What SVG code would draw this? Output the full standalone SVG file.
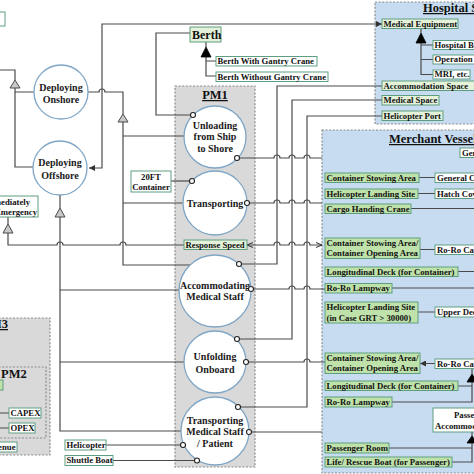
<svg xmlns="http://www.w3.org/2000/svg" width="474" height="474" viewBox="0 0 474 474">
<style>
text{font-family:"Liberation Serif","Times New Roman",serif;font-weight:bold;fill:#111}
.t{font-size:8.7px}
.c{font-size:10px;text-anchor:middle;fill:#1a1a1a}
.h{font-size:12.5px;text-decoration:underline}
.bw{fill:#fff;stroke:#5e9e80;stroke-width:1}
.bg{fill:#bfe2ab;stroke:#5e9e80;stroke-width:1}
.bp{fill:#e4f2da;stroke:#5e9e80;stroke-width:1}
.node{fill:#fff;stroke:#7fa6c6;stroke-width:1.3}
.pm{fill:#d9d9d9;stroke:#8c8c8c;stroke-width:1.2;stroke-dasharray:2 1.6}
.sea{fill:#c7dcf0;stroke:#8c8c8c;stroke-width:1.2;stroke-dasharray:2 1.6}
.ln{fill:none;stroke:#4a4a4a;stroke-width:1.2}
.gt{fill:#c8c8c8;stroke:#4a4a4a;stroke-width:1}
.bt{fill:#000;stroke:#000;stroke-width:0.8}
.o{fill:#fff;stroke:#222;stroke-width:1.1}
</style>
<defs>
<marker id="af" markerWidth="6" markerHeight="6" refX="6" refY="3" orient="auto-start-reverse" markerUnits="userSpaceOnUse"><path d="M0,0 L6,3 L0,6 z" fill="#333"/></marker>
<marker id="ao" markerWidth="6" markerHeight="6" refX="6" refY="3" orient="auto-start-reverse" markerUnits="userSpaceOnUse"><path d="M0,0.5 L6,3 L0,5.5" fill="none" stroke="#333" stroke-width="1"/></marker>
</defs>

<!-- containers -->
<g id="PM3"><rect class="pm" x="-5" y="318" width="55" height="137"/><text class="h" x="8" y="328" text-anchor="end">PM3</text></g>
<g id="PM2"><rect class="pm" x="-5" y="367" width="51" height="71"/><text x="1" y="378" style="font-size:12.5px">PM2</text></g>
<g id="PM1"><rect class="pm" x="175" y="86" width="80" height="381"/><text class="h" x="215" y="99" text-anchor="middle">PM1</text></g>
<g id="HospitalShip"><rect class="sea" x="375" y="2" width="110" height="122"/><text class="h" x="423" y="12">Hospital Ship</text></g>
<g id="MerchantVessel"><rect class="sea" x="322" y="130" width="160" height="343"/><text class="h" x="389" y="143">Merchant Vessel</text></g>

<!-- connectors -->
<g id="connectors">
<path class="ln" d="M0,70 H15 V80 M15,88 V167 H33 M15,92 H34"/>
<path class="ln" d="M88,92 H99 A3 3 0 0 1 105 92 H123 V114 M123,122 V265 H190 M123,136 H184 M123,203 H183"/>
<path class="ln" d="M89,168 H102 V24 H382" marker-start="url(#af)" marker-end="url(#af)"/>
<path class="ln" d="M60,195 V208 M60,217 V431 H182 M60,290 H179 M60,362 H184"/>
<path class="ln" d="M8,217 V224 M8,233 V245 H57 A3 3 0 0 1 63 245 H120 A3 3 0 0 1 126 245 H184"/>
<path class="ln" d="M247,245 H274 A3 3 0 0 1 280 245 H289 A3 3 0 0 1 295 245 H304 A3 3 0 0 1 310 245 H322" marker-start="url(#ao)" marker-end="url(#ao)"/>
<path class="ln" d="M190,33 H156 V115 H193"/>
<path class="ln" d="M206,42 V47 M206,57 V76 H216 M206,61 H216"/>
<path class="ln" d="M237,158 H274 A3 3 0 0 1 280 158 H289 A3 3 0 0 1 295 158 H304 A3 3 0 0 1 310 158 H322"/>
<path class="ln" d="M247,203 H274 A3 3 0 0 1 280 203 H289 A3 3 0 0 1 295 203 H304 A3 3 0 0 1 310 203 H322"/>
<path class="ln" d="M171,181 H192"/>
<path class="ln" d="M239,264 H277 V86 H382"/>
<path class="ln" d="M237,339 H292 V100 H382"/>
<path class="ln" d="M238,407 H307 V116 H382"/>
<path class="ln" d="M251,289 H289 A3 3 0 0 1 295 289 H304 A3 3 0 0 1 310 289 H325"/>
<path class="ln" d="M246,362 H304 A3 3 0 0 1 310 362 H325"/>
<path class="ln" d="M249,432 H322"/>
<path class="ln" d="M105,445 H183 M113,460.5 H197"/>
<path class="ln" d="M0,413 H9 M0,428 H9"/>
<path class="ln" d="M421,28.5 V33 M421,43 V74.5 H433 M421,45 H433 M421,59.5 H433"/>
<path class="ln" d="M435,177.5 H419 M435,193.5 H418 M435,249.5 H420 M435,312 H418 M435,363.5 H420" marker-end="url(#af)"/>
<path class="ln" d="M411,208.5 H474 M458,271.5 H474 M392,288 H474"/>
<path class="ln" d="M472,368.5 V374 M472,382 V402 H392 M458,386 H472"/>
<path class="ln" d="M472,432 V436 M472,443 V462 H452 M389,448 H472"/>
<polygon class="gt" points="15,80 10,88 20,88"/>
<polygon class="gt" points="123,114 118,122 128,122"/>
<polygon class="gt" points="60,208 55,217 65,217"/>
<polygon class="gt" points="8,224 3,233 13,233"/>
<polygon class="bt" points="206,47 201,57 211,57"/>
<polygon class="bt" points="421,33 416,43 426,43"/>
<polygon class="bt" points="472,374 467,382 477,382"/>
<polygon class="bt" points="472,436 467,443 477,443"/>
</g>

<!-- circle nodes -->
<g id="DeployingOnshore"><circle class="node" cx="61" cy="92" r="27"/><text class="c" x="61" y="91">Deploying</text><text class="c" x="61" y="103">Onshore</text></g>
<g id="DeployingOffshore"><circle class="node" cx="60" cy="168" r="27"/><text class="c" x="60" y="166">Deploying</text><text class="c" x="60" y="178.5">Offshore</text></g>
<g id="Unloading"><circle class="node" cx="215" cy="137" r="31"/><text class="c" x="215" y="128.5">Unloading</text><text class="c" x="215" y="140">from Ship</text><text class="c" x="215" y="151.5">to Shore</text></g>
<g id="Transporting"><circle class="node" cx="215" cy="203" r="32"/><text class="c" x="215" y="207">Transporting</text></g>
<g id="Accommodating"><circle class="node" cx="215" cy="291" r="36"/><text class="c" x="215" y="288.5">Accommodating</text><text class="c" x="215" y="300">Medical Staff</text></g>
<g id="Unfolding"><circle class="node" cx="215" cy="362" r="31"/><text class="c" x="215" y="360">Unfolding</text><text class="c" x="215" y="373">Onboard</text></g>
<g id="TransportingMedical"><circle class="node" cx="215" cy="431" r="34"/><text class="c" x="215" y="423.5">Transporting</text><text class="c" x="215" y="435">Medical Staff</text><text class="c" x="215" y="446.5">/ Patient</text></g>

<!-- ports -->
<g id="ports">
<circle class="o" cx="193" cy="115" r="2.5"/><circle class="o" cx="237" cy="158" r="2.5"/>
<circle class="o" cx="192" cy="181" r="2.5"/><circle class="o" cx="247" cy="203" r="2.5"/>
<circle class="o" cx="239" cy="264" r="2.5"/><circle class="o" cx="251" cy="289" r="2.5"/>
<circle class="o" cx="237" cy="339" r="2.5"/><circle class="o" cx="246" cy="362" r="2.5"/>
<circle class="o" cx="238" cy="407" r="2.5"/><circle class="o" cx="249" cy="432" r="2.5"/>
<circle class="o" cx="183" cy="445" r="2.5"/><circle class="o" cx="197" cy="460.5" r="2.5"/>
</g>

<!-- box nodes -->
<g id="TopLeftBox"><rect class="bw" x="-20" y="12" width="25" height="14"/></g>
<g id="Berth"><rect class="bp" x="190" y="27" width="31" height="15"/><text x="192" y="39" style="font-size:12px">Berth</text></g>
<g id="BerthWith"><rect class="bw" x="216" y="56.5" width="101" height="9.5"/><text class="t" x="217.5" y="64">Berth With Gantry Crane</text></g>
<g id="BerthWithout"><rect class="bw" x="216" y="72" width="112" height="9.5"/><text class="t" x="217.5" y="79.5">Berth Without Gantry Crane</text></g>
<g id="Container20FT"><rect class="bw" x="131" y="171" width="40" height="21"/><text class="t" x="151" y="179.5" text-anchor="middle">20FT</text><text class="t" x="151" y="189.5" text-anchor="middle">Container</text></g>
<g id="ResponseSpeed"><rect class="bp" x="184" y="240" width="63" height="9.5"/><text class="t" x="185.5" y="247.5">Response Speed</text></g>
<g id="Emergency"><rect class="bw" x="-20" y="196" width="58" height="21"/><text class="t" x="30" y="205" text-anchor="end">Immediately</text><text class="t" x="37" y="214.5" text-anchor="end">Emergency</text></g>
<g id="Helicopter"><rect class="bw" x="65" y="440" width="41" height="10"/><text class="t" x="66.5" y="447.8">Helicopter</text></g>
<g id="ShuttleBoat"><rect class="bw" x="65" y="455.5" width="48" height="10"/><text class="t" x="66.5" y="463.3">Shuttle Boat</text></g>
<g id="CAPEX"><rect class="bw" x="9" y="408" width="32" height="10"/><text class="t" x="10.5" y="415.8">CAPEX</text></g>
<g id="OPEX"><rect class="bw" x="9" y="423" width="26" height="10"/><text class="t" x="10.5" y="430.8">OPEX</text></g>
<g id="Revenue"><rect class="bw" x="-30" y="442" width="47" height="10"/><text class="t" x="15.5" y="449.8" text-anchor="end">Revenue</text></g>
<g id="PM2Box"><rect class="bg" x="-20" y="380" width="23" height="10"/></g>

<g id="MedicalEquipment"><rect class="bp" x="382" y="19" width="76" height="9.5"/><text class="t" x="383.5" y="26.5">Medical Equipment</text></g>
<g id="HospitalBed"><rect class="bw" x="433" y="40.5" width="60" height="9"/><text class="t" x="434.5" y="47.6">Hospital Bed</text></g>
<g id="OperationRoom"><rect class="bw" x="433" y="55" width="70" height="9"/><text class="t" x="434.5" y="62.1">Operation Room</text></g>
<g id="MRI"><rect class="bw" x="433" y="70" width="37" height="9"/><text class="t" x="434.5" y="77.1">MRI, etc.</text></g>
<g id="AccommodationSpace"><rect class="bp" x="382" y="81" width="110" height="9.5"/><text class="t" x="383.5" y="88.5">Accommodation Space</text></g>
<g id="MedicalSpace"><rect class="bp" x="382" y="95.5" width="57" height="9.5"/><text class="t" x="383.5" y="103">Medical Space</text></g>
<g id="HelicopterPort"><rect class="bp" x="382" y="111" width="61" height="9.5"/><text class="t" x="383.5" y="118.5">Helicopter Port</text></g>

<g id="GeneralCargoTop"><rect class="bw" x="460" y="148" width="60" height="9.5"/><text class="t" x="462" y="155.5">General Cargo</text></g>
<g id="CSA1"><rect class="bg" x="325" y="173" width="94" height="9.5"/><text class="t" x="326.5" y="180.5">Container Stowing Area</text></g>
<g id="GeneralCargo"><rect class="bw" x="435" y="173" width="60" height="9.5"/><text class="t" x="437" y="180.5">General Cargo</text></g>
<g id="HLS1"><rect class="bg" x="325" y="189" width="93" height="9.5"/><text class="t" x="326.5" y="196.5">Helicopter Landing Site</text></g>
<g id="HatchCover"><rect class="bw" x="435" y="189" width="60" height="9.5"/><text class="t" x="437" y="196.5">Hatch Cover</text></g>
<g id="CargoCrane"><rect class="bg" x="325" y="204" width="86" height="9.5"/><text class="t" x="326.5" y="211.5">Cargo Handing Crane</text></g>
<g id="CSOA1"><rect class="bg" x="325" y="238" width="95" height="20.5"/><text class="t" x="326.5" y="245.5">Container Stowing Area/</text><text class="t" x="326.5" y="256">Container Opening Area</text></g>
<g id="RoRoCargo1"><rect class="bw" x="435" y="245" width="60" height="9.5"/><text class="t" x="437" y="252.5">Ro-Ro Cargo</text></g>
<g id="LongDeck1"><rect class="bg" x="325" y="267" width="133" height="9.5"/><text class="t" x="326.5" y="274.5">Longitudinal Deck (for Container)</text></g>
<g id="Lampway1"><rect class="bg" x="325" y="283.5" width="67" height="9.5"/><text class="t" x="326.5" y="291">Ro-Ro Lampway</text></g>
<g id="HLS2"><rect class="bg" x="325" y="302" width="93" height="21"/><text class="t" x="326.5" y="310">Helicopter Landing Site</text><text class="t" x="326.5" y="320.5">(in Case GRT &gt; 30000)</text></g>
<g id="UpperDeck"><rect class="bw" x="435" y="307" width="60" height="10"/><text class="t" x="437" y="315">Upper Deck</text></g>
<g id="CSOA2"><rect class="bg" x="325" y="353" width="95" height="20.5"/><text class="t" x="326.5" y="360.5">Container Stowing Area/</text><text class="t" x="326.5" y="371">Container Opening Area</text></g>
<g id="RoRoCargo2"><rect class="bw" x="435" y="359" width="60" height="9.5"/><text class="t" x="437" y="366.5">Ro-Ro Cargo</text></g>
<g id="LongDeck2"><rect class="bg" x="325" y="381" width="133" height="9.5"/><text class="t" x="326.5" y="388.5">Longitudinal Deck (for Container)</text></g>
<g id="Lampway2"><rect class="bg" x="325" y="397" width="67" height="10"/><text class="t" x="326.5" y="404.8">Ro-Ro Lampway</text></g>
<g id="PassengerAccommodation"><rect class="bw" x="433" y="408" width="60" height="24"/><text class="t" x="454" y="418">Passenger</text><text class="t" x="435" y="429">Accommodation</text></g>
<g id="PassengerRoom"><rect class="bg" x="325" y="443" width="64" height="10"/><text class="t" x="326.5" y="450.8">Passenger Room</text></g>
<g id="LifeBoat"><rect class="bg" x="325" y="457" width="127" height="10"/><text class="t" x="326.5" y="464.8">Life/ Rescue Boat (for Passenger)</text></g>
</svg>
